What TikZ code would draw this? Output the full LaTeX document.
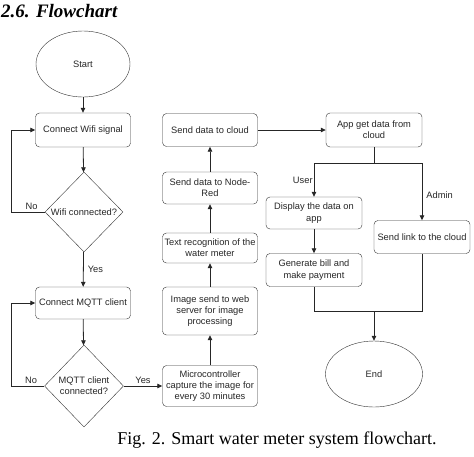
\documentclass[tikz,border=0pt]{standalone}
\usepackage{fontspec}
\setmainfont{Liberation Serif}
\setsansfont{Liberation Sans}
\usetikzlibrary{shapes, arrows.meta, positioning, calc}

\begin{document}
\begin{tikzpicture}[x=1pt, y=-1pt,
		every node/.style={font=\sffamily\fontsize{9.3}{11.3}\selectfont, text=black!85},
		box/.style={draw=black!80, rounded corners=4pt, minimum width=95pt, align=center, inner sep=0.5pt},
		terminal/.style={draw=black!80, ellipse, minimum width=94pt, minimum height=66pt, inner sep=0pt},
		decision/.style={draw=black!80, diamond, minimum width=78pt, minimum height=80pt, inner sep=0pt, align=center},
		line/.style={draw=black!85, line width=0.8pt},
		arr/.style={line, -{Triangle[length=5pt,width=4.5pt]}},
		lbl/.style={inner sep=1pt}]
	\useasboundingbox (0,0) rectangle (474,456);
	\node[anchor=base west, inner sep=0pt, font=\rmfamily\bfseries\itshape\fontsize{19}{21}\selectfont, text=black] (title) at (1,17) {2.6. Flowchart};
	% left column
	\node[terminal] (start) at (83,64) {Start};
	\node[box, minimum height=34pt] (wifi) at (83,130) {Connect Wifi signal};
	\node[decision] (wifiq) at (84,212) {Wifi connected?};
	\node[box, minimum height=32pt] (mqtt) at (83,303) {Connect MQTT client};
	\node[decision, minimum width=79pt, minimum height=82pt] (mqttq) at (84,386) {MQTT client\\connected?};
	% middle column
	\node[box, minimum height=41pt] (micro) at (210,386) {Microcontroller\\capture the image for\\every 30 minutes};
	\node[box, minimum height=48pt] (image) at (210,311) {Image send to web\\server for image\\processing};
	\node[box, minimum height=30pt] (ocr) at (210,248) {Text recognition of the\\water meter};
	\node[box, minimum height=32pt] (nodered) at (210,188) {Send data to Node-\\Red};
	\node[box, minimum height=33pt] (cloud) at (210,130) {Send data to cloud};
	% right side
	\node[box, minimum width=96pt, minimum height=34pt] (app) at (374,130) {App get data from\\cloud};
	\node[box, minimum width=96pt, minimum height=32pt] (disp) at (314,213) {Display the data on\\app};
	\node[box, minimum width=96pt, minimum height=33pt] (bill) at (314,270) {Generate bill and\\make payment};
	\node[box, minimum width=96pt, minimum height=33pt] (link) at (422,237) {Send link to the cloud};
	\node[terminal, minimum width=97pt] (end) at (374,374) {End};
	\node[font=\rmfamily\fontsize{18}{20}\selectfont, text=black] (caption) at (277,440) {Fig. 2. Smart water meter system flowchart.};

	\draw[arr] (start) -- (wifi);
	\draw[arr] (wifi) -- (wifiq);
	\draw[arr] (wifiq.west) -- ++(-33,0) |- (wifi.west);
	\node[lbl, anchor=south east, xshift=-6pt, yshift=1pt] (no1) at (wifiq.west) {No};
	\draw[arr] (wifiq) -- node[lbl, right=3pt] (yes1) {Yes} (mqtt);
	\draw[arr] (mqtt) -- (mqttq);
	\draw[arr] (mqttq.west) -- ++(-33,0) |- (mqtt.west);
	\node[lbl, anchor=south east, xshift=-6pt, yshift=1pt] (no2) at (mqttq.west) {No};
	\draw[arr] (mqttq) -- node[lbl, above=1pt] (yes2) {Yes} (micro);
	\foreach \from/\to in {micro/image,image/ocr,ocr/nodered,nodered/cloud}
		\draw[arr] (\from) -- (\to);
	\draw[arr] (cloud) -- (app);
	\draw[arr] (app.south) -- ++(0,16) -| node[lbl, pos=0.75, left=0pt] (user) {User} (disp.north);
	\draw[arr] (app.south) -- ++(0,16) -| node[lbl, pos=0.78, right=3pt] (admin) {Admin} (link.north);
	\draw[arr] (disp) -- (bill);
	\draw[line] (bill.south) -- ++(0,25) coordinate (merge) -| (link.south);
	\draw[arr] (merge -| end.north) -- (end.north);
\end{tikzpicture}
\end{document}
